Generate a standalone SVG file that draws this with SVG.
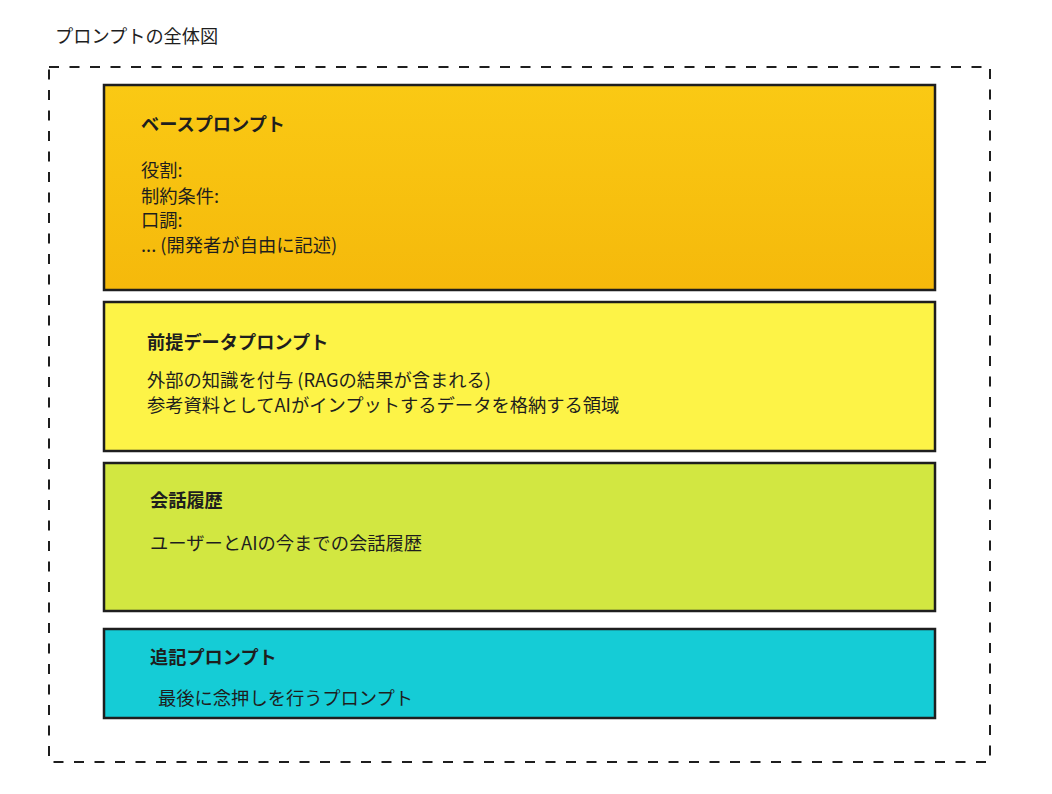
<svg xmlns="http://www.w3.org/2000/svg" width="1052" height="794" viewBox="0 0 1052 794">
<style>
text{font-family:"Noto Sans CJK JP","Noto Sans",sans-serif;fill:#1e1e1e;}
.t{font-size:18.2px;}
.h{font-size:18.2px;font-weight:bold;}
.b{font-size:18.3px;}
.box{stroke:#1e1e1e;stroke-width:2.5;}
.frame{fill:none;stroke:#1e1e1e;stroke-width:2;stroke-dasharray:10 10.5;}
</style>
<defs>
<linearGradient id="g1" x1="0" y1="0" x2="0" y2="1">
<stop offset="0" stop-color="#fac914"/>
<stop offset="1" stop-color="#f5b90b"/>
</linearGradient>
</defs>
<rect width="1052" height="794" fill="#ffffff"/>
<g id="title">
<text class="t" x="55" y="43">プロンプトの全体図</text>
</g>
<g id="frame">
<rect class="frame" x="49" y="67" width="941" height="695"/>
</g>
<g id="base">
<rect class="box" x="104" y="85" width="831" height="205" fill="url(#g1)"/>
<text class="h" x="141" y="131">ベースプロンプト</text>
<text class="b" x="141" y="177">役割:</text>
<text class="b" x="141" y="203">制約条件:</text>
<text class="b" x="141" y="227">口調:</text>
<text class="b" x="141" y="252">... (開発者が自由に記述)</text>
</g>
<g id="premise">
<rect class="box" x="104" y="302" width="831" height="149" fill="#fdf347"/>
<text class="h" x="147" y="349">前提データプロンプト</text>
<text class="b" x="147" y="387">外部の知識を付与 (RAGの結果が含まれる)</text>
<text class="b" x="147" y="412">参考資料としてAIがインプットするデータを格納する領域</text>
</g>
<g id="history">
<rect class="box" x="104" y="463" width="831" height="148" fill="#d2e741"/>
<text class="h" x="150" y="507">会話履歴</text>
<text class="b" x="150" y="550">ユーザーとAIの今までの会話履歴</text>
</g>
<g id="append">
<rect class="box" x="104" y="629" width="831" height="89" fill="#15ccd6"/>
<text class="h" x="150" y="664">追記プロンプト</text>
<text class="b" x="158" y="705">最後に念押しを行うプロンプト</text>
</g>
<g id="connectors"></g>
</svg>
